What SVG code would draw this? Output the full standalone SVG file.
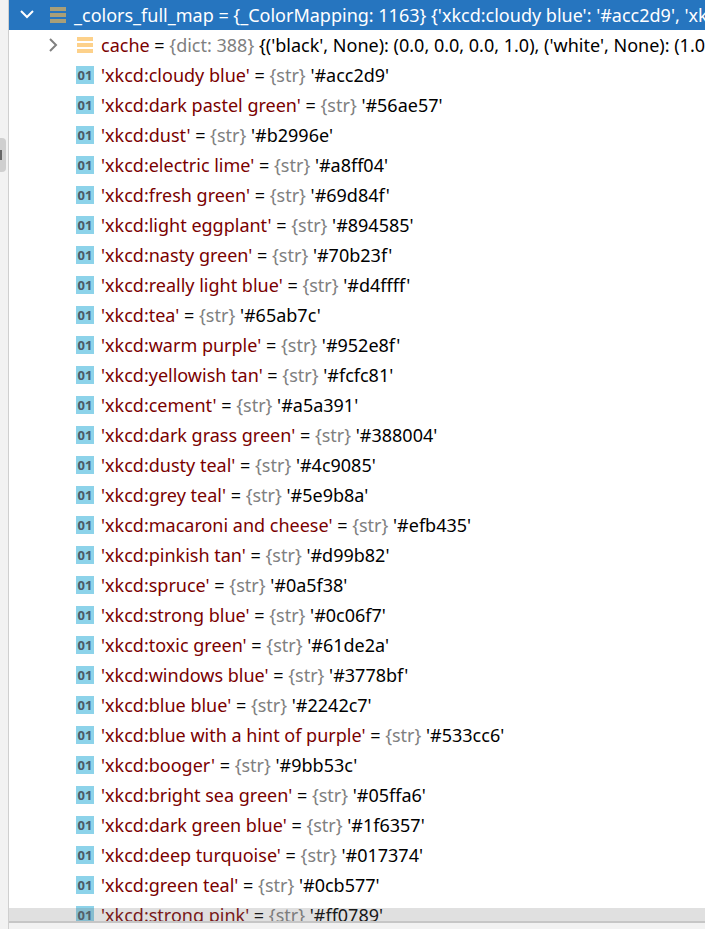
<svg xmlns="http://www.w3.org/2000/svg" width="705" height="929" viewBox="0 0 705 929">
<style>
text{font-family:"Noto Sans","Open Sans","Liberation Sans",sans-serif;font-size:18px;white-space:pre}
.k{fill:#7a0000}.e{fill:#000}.t{fill:#808080}.v{fill:#000}
.ic{fill:#8dd3ea}.n{font-family:"Noto Sans",sans-serif;font-size:13px;font-weight:700;fill:#4a5a66}
</style>
<defs>
<g id="num"><rect x="76" y="-9" width="18" height="18" class="ic"/><text x="85" y="4.5" text-anchor="middle" class="n">01</text></g>
<clipPath id="c"><rect x="9" y="0" width="696" height="922"/></clipPath>
</defs>
<rect width="705" height="929" fill="#fff"/>
<g id="rows" clip-path="url(#c)">
<g id="header"><rect x="9" y="0" width="696" height="30" fill="#2675bf"/>
<path d="M21 11l6 6 6-6" fill="none" stroke="#fff" stroke-width="2"/>
<g fill="#a89f78"><rect x="50" y="7" width="16" height="4"/><rect x="50" y="13" width="16" height="4"/><rect x="50" y="19" width="16" height="4"/></g>
<text x="74" y="22" fill="#fff">_colors_full_map = {_ColorMapping: 1163} {'xkcd:cloudy blue': '#acc2d9', 'xkcd:dark</text></g>
<g id="cache"><path d="M50 39l6 6-6 6" fill="none" stroke="#808080" stroke-width="2"/>
<g fill="#fdd18a"><rect x="77" y="37" width="16" height="4"/><rect x="77" y="43" width="16" height="4"/><rect x="77" y="49" width="16" height="4"/></g>
<text x="101" y="52"><tspan class="k">cache</tspan><tspan class="e"> = </tspan><tspan class="t">{dict: 388}</tspan><tspan class="e"> {('black', None): (0.0, 0.0, 0.0, 1.0), ('white', None): (1.0, 1.0</tspan></text></g>
<g id="r1" transform="translate(0,75)"><use href="#num"/><text x="101" y="7"><tspan class="k">'xkcd:cloudy blue'</tspan><tspan class="e"> = </tspan><tspan class="t">{str}</tspan><tspan class="v"> '#acc2d9'</tspan></text></g>
<g id="r2" transform="translate(0,105)"><use href="#num"/><text x="101" y="7"><tspan class="k">'xkcd:dark pastel green'</tspan><tspan class="e"> = </tspan><tspan class="t">{str}</tspan><tspan class="v"> '#56ae57'</tspan></text></g>
<g id="r3" transform="translate(0,135)"><use href="#num"/><text x="101" y="7"><tspan class="k">'xkcd:dust'</tspan><tspan class="e"> = </tspan><tspan class="t">{str}</tspan><tspan class="v"> '#b2996e'</tspan></text></g>
<g id="r4" transform="translate(0,165)"><use href="#num"/><text x="101" y="7"><tspan class="k">'xkcd:electric lime'</tspan><tspan class="e"> = </tspan><tspan class="t">{str}</tspan><tspan class="v"> '#a8ff04'</tspan></text></g>
<g id="r5" transform="translate(0,195)"><use href="#num"/><text x="101" y="7"><tspan class="k">'xkcd:fresh green'</tspan><tspan class="e"> = </tspan><tspan class="t">{str}</tspan><tspan class="v"> '#69d84f'</tspan></text></g>
<g id="r6" transform="translate(0,225)"><use href="#num"/><text x="101" y="7"><tspan class="k">'xkcd:light eggplant'</tspan><tspan class="e"> = </tspan><tspan class="t">{str}</tspan><tspan class="v"> '#894585'</tspan></text></g>
<g id="r7" transform="translate(0,255)"><use href="#num"/><text x="101" y="7"><tspan class="k">'xkcd:nasty green'</tspan><tspan class="e"> = </tspan><tspan class="t">{str}</tspan><tspan class="v"> '#70b23f'</tspan></text></g>
<g id="r8" transform="translate(0,285)"><use href="#num"/><text x="101" y="7"><tspan class="k">'xkcd:really light blue'</tspan><tspan class="e"> = </tspan><tspan class="t">{str}</tspan><tspan class="v"> '#d4ffff'</tspan></text></g>
<g id="r9" transform="translate(0,315)"><use href="#num"/><text x="101" y="7"><tspan class="k">'xkcd:tea'</tspan><tspan class="e"> = </tspan><tspan class="t">{str}</tspan><tspan class="v"> '#65ab7c'</tspan></text></g>
<g id="r10" transform="translate(0,345)"><use href="#num"/><text x="101" y="7"><tspan class="k">'xkcd:warm purple'</tspan><tspan class="e"> = </tspan><tspan class="t">{str}</tspan><tspan class="v"> '#952e8f'</tspan></text></g>
<g id="r11" transform="translate(0,375)"><use href="#num"/><text x="101" y="7"><tspan class="k">'xkcd:yellowish tan'</tspan><tspan class="e"> = </tspan><tspan class="t">{str}</tspan><tspan class="v"> '#fcfc81'</tspan></text></g>
<g id="r12" transform="translate(0,405)"><use href="#num"/><text x="101" y="7"><tspan class="k">'xkcd:cement'</tspan><tspan class="e"> = </tspan><tspan class="t">{str}</tspan><tspan class="v"> '#a5a391'</tspan></text></g>
<g id="r13" transform="translate(0,435)"><use href="#num"/><text x="101" y="7"><tspan class="k">'xkcd:dark grass green'</tspan><tspan class="e"> = </tspan><tspan class="t">{str}</tspan><tspan class="v"> '#388004'</tspan></text></g>
<g id="r14" transform="translate(0,465)"><use href="#num"/><text x="101" y="7"><tspan class="k">'xkcd:dusty teal'</tspan><tspan class="e"> = </tspan><tspan class="t">{str}</tspan><tspan class="v"> '#4c9085'</tspan></text></g>
<g id="r15" transform="translate(0,495)"><use href="#num"/><text x="101" y="7"><tspan class="k">'xkcd:grey teal'</tspan><tspan class="e"> = </tspan><tspan class="t">{str}</tspan><tspan class="v"> '#5e9b8a'</tspan></text></g>
<g id="r16" transform="translate(0,525)"><use href="#num"/><text x="101" y="7"><tspan class="k">'xkcd:macaroni and cheese'</tspan><tspan class="e"> = </tspan><tspan class="t">{str}</tspan><tspan class="v"> '#efb435'</tspan></text></g>
<g id="r17" transform="translate(0,555)"><use href="#num"/><text x="101" y="7"><tspan class="k">'xkcd:pinkish tan'</tspan><tspan class="e"> = </tspan><tspan class="t">{str}</tspan><tspan class="v"> '#d99b82'</tspan></text></g>
<g id="r18" transform="translate(0,585)"><use href="#num"/><text x="101" y="7"><tspan class="k">'xkcd:spruce'</tspan><tspan class="e"> = </tspan><tspan class="t">{str}</tspan><tspan class="v"> '#0a5f38'</tspan></text></g>
<g id="r19" transform="translate(0,615)"><use href="#num"/><text x="101" y="7"><tspan class="k">'xkcd:strong blue'</tspan><tspan class="e"> = </tspan><tspan class="t">{str}</tspan><tspan class="v"> '#0c06f7'</tspan></text></g>
<g id="r20" transform="translate(0,645)"><use href="#num"/><text x="101" y="7"><tspan class="k">'xkcd:toxic green'</tspan><tspan class="e"> = </tspan><tspan class="t">{str}</tspan><tspan class="v"> '#61de2a'</tspan></text></g>
<g id="r21" transform="translate(0,675)"><use href="#num"/><text x="101" y="7"><tspan class="k">'xkcd:windows blue'</tspan><tspan class="e"> = </tspan><tspan class="t">{str}</tspan><tspan class="v"> '#3778bf'</tspan></text></g>
<g id="r22" transform="translate(0,705)"><use href="#num"/><text x="101" y="7"><tspan class="k">'xkcd:blue blue'</tspan><tspan class="e"> = </tspan><tspan class="t">{str}</tspan><tspan class="v"> '#2242c7'</tspan></text></g>
<g id="r23" transform="translate(0,735)"><use href="#num"/><text x="101" y="7"><tspan class="k">'xkcd:blue with a hint of purple'</tspan><tspan class="e"> = </tspan><tspan class="t">{str}</tspan><tspan class="v"> '#533cc6'</tspan></text></g>
<g id="r24" transform="translate(0,765)"><use href="#num"/><text x="101" y="7"><tspan class="k">'xkcd:booger'</tspan><tspan class="e"> = </tspan><tspan class="t">{str}</tspan><tspan class="v"> '#9bb53c'</tspan></text></g>
<g id="r25" transform="translate(0,795)"><use href="#num"/><text x="101" y="7"><tspan class="k">'xkcd:bright sea green'</tspan><tspan class="e"> = </tspan><tspan class="t">{str}</tspan><tspan class="v"> '#05ffa6'</tspan></text></g>
<g id="r26" transform="translate(0,825)"><use href="#num"/><text x="101" y="7"><tspan class="k">'xkcd:dark green blue'</tspan><tspan class="e"> = </tspan><tspan class="t">{str}</tspan><tspan class="v"> '#1f6357'</tspan></text></g>
<g id="r27" transform="translate(0,855)"><use href="#num"/><text x="101" y="7"><tspan class="k">'xkcd:deep turquoise'</tspan><tspan class="e"> = </tspan><tspan class="t">{str}</tspan><tspan class="v"> '#017374'</tspan></text></g>
<g id="r28" transform="translate(0,885)"><use href="#num"/><text x="101" y="7"><tspan class="k">'xkcd:green teal'</tspan><tspan class="e"> = </tspan><tspan class="t">{str}</tspan><tspan class="v"> '#0cb577'</tspan></text></g>
<g id="r29" transform="translate(0,915)"><use href="#num"/><text x="101" y="7"><tspan class="k">'xkcd:strong pink'</tspan><tspan class="e"> = </tspan><tspan class="t">{str}</tspan><tspan class="v"> '#ff0789'</tspan></text></g>
</g>
<g id="chrome">
<rect x="9" y="908" width="696" height="14" fill="#707070" fill-opacity=".22"/>
<rect x="0" y="922" width="705" height="7" fill="#f2f2f2"/>
<rect x="9" y="921" width="696" height="2" fill="#c6c6c6"/>
<rect x="0" y="0" width="8" height="929" fill="#f2f2f2"/>
<rect x="8" y="0" width="1" height="929" fill="#cfcfcf"/>
<path d="M0 138h2a4 4 0 0 1 4 4v26a4 4 0 0 1-4 4h-2z" fill="#cfcfcf"/>
<rect x="0" y="150" width="2" height="10" fill="#666"/>
</g>
</svg>
